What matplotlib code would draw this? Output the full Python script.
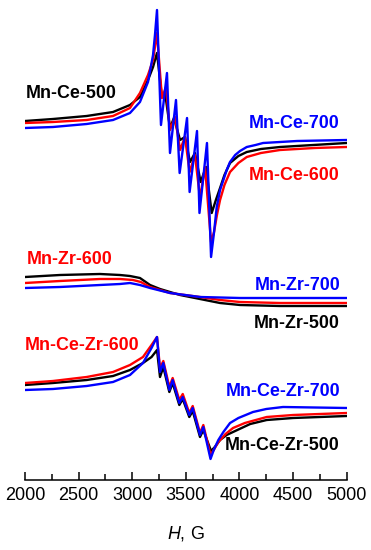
import matplotlib
matplotlib.use("Agg")
import matplotlib.pyplot as plt
from matplotlib.ticker import MultipleLocator

plt.rcParams['font.family'] = ['Liberation Sans', 'DejaVu Sans']
plt.rcParams['mathtext.fontset'] = 'custom'
plt.rcParams['mathtext.it'] = 'Liberation Sans:italic'
plt.rcParams['mathtext.rm'] = 'Liberation Sans'

# ---- Mn-Ce group (field in G, signal in a.u.) ----
mnce500_x = [2000, 2261, 2575, 2821, 2979, 3072, 3147, 3194, 3231, 3275, 3306, 3352, 3389,
             3446, 3492, 3539, 3585, 3638, 3688, 3741, 3780, 3819, 3860, 3912, 3990, 4068,
             4200, 4378, 5000]
mnce500_y = [359, 361, 364, 368, 375, 383, 400, 413, 427, 385, 387, 352, 362,
             340, 343, 318, 327, 298, 313, 267, 280, 292, 305, 317, 324, 328,
             331, 333, 337]
mnce600_x = [2000, 2261, 2575, 2821, 2979, 3072, 3147, 3194, 3212, 3231, 3277, 3315, 3352, 3399,
             3446, 3492, 3535, 3585, 3632, 3679, 3735, 3763, 3790, 3819, 3860, 3912, 3990,
             4068, 4200, 4378, 4700, 5000]
mnce600_y = [357, 358, 360, 364, 372, 387, 405, 420, 433, 447, 382, 393, 350, 363,
             330, 343, 308, 325, 282, 313, 238, 248, 265, 280, 295, 308, 317,
             323, 327, 330, 332, 333]
mnce700_x = [2000, 2261, 2575, 2821, 2979, 3072, 3147, 3194, 3212, 3231, 3268, 3324, 3352,
             3408, 3442, 3511, 3535, 3604, 3627, 3697, 3735, 3760, 3788, 3819, 3850, 3881,
             3912, 3960, 4005, 4068, 4150, 4220, 4378, 4537, 5000]
mnce700_y = [352, 353, 356, 360, 367, 378, 398, 425, 445, 470, 355, 407, 327,
             380, 307, 362, 288, 349, 267, 337, 223, 245, 273, 290, 300, 310,
             318, 325, 329, 333, 335, 337, 338, 339, 340]

# ---- Mn-Zr group ----
mnzr500_x = [2000, 2326, 2699, 2886, 2979, 3072, 3166, 3259, 3352, 3446, 3632, 3819, 4005, 4378, 5000]
mnzr500_y = [203, 205, 206, 205, 204, 202, 195, 191, 188, 185, 181, 177, 175, 174, 174]
mnzr600_x = [2000, 2326, 2699, 2886, 3007, 3080, 3166, 3259, 3352, 3632, 3819, 4005, 4378, 5000]
mnzr600_y = [197, 199, 201, 201, 200, 198, 193, 190, 187, 183, 180, 178, 177, 177]
mnzr700_x = [2000, 2326, 2699, 2886, 2979, 3072, 3166, 3352, 3632, 4005, 4378, 5000]
mnzr700_y = [192, 193, 195, 196, 197, 195, 192, 187, 183, 182, 182, 182]

# ---- Mn-Ce-Zr group ----
mncezr500_x = [2000, 2261, 2575, 2821, 2979, 3100, 3180, 3231, 3259, 3290, 3346, 3377, 3439, 3471,
               3532, 3564, 3632, 3663, 3735, 3770, 3819, 3880, 3940, 4100, 4254, 4500, 5000]
mncezr500_y = [95, 97, 100, 104, 110, 117, 123, 130, 103, 113, 88, 97, 75, 81,
               63, 69, 43, 50, 29, 33, 40, 45, 48, 56, 60, 62, 64]
mncezr600_x = [2000, 2261, 2575, 2821, 2979, 3100, 3180, 3231, 3259, 3290, 3346, 3377, 3439, 3471,
               3532, 3564, 3632, 3663, 3730, 3760, 3803, 3870, 3940, 4050, 4254, 4500, 5000]
mncezr600_y = [97, 99, 103, 108, 115, 123, 135, 143, 112, 119, 93, 102, 80, 86,
               67, 74, 47, 55, 25, 30, 38, 46, 52, 57, 63, 65, 67]
mncezr700_x = [2000, 2261, 2575, 2821, 2979, 3100, 3180, 3231, 3259, 3290, 3346, 3377, 3439, 3471,
               3532, 3564, 3632, 3663, 3730, 3760, 3803, 3850, 3912, 3990, 4126, 4250, 4406, 5000]
mncezr700_y = [90, 91, 94, 98, 105, 117, 132, 143, 108, 117, 90, 100, 77, 83,
               65, 72, 45, 53, 21, 30, 40, 48, 57, 62, 68, 71, 73, 72]

series = [
    (mnce500_x, mnce500_y, 'black'), (mnce600_x, mnce600_y, 'red'), (mnce700_x, mnce700_y, 'blue'),
    (mnzr500_x, mnzr500_y, 'black'), (mnzr600_x, mnzr600_y, 'red'), (mnzr700_x, mnzr700_y, 'blue'),
    (mncezr500_x, mncezr500_y, 'black'), (mncezr600_x, mncezr600_y, 'red'), (mncezr700_x, mncezr700_y, 'blue'),
]

labels = [
    ("Mn-Ce-500", 'black', 26, 92, 'left'),
    ("Mn-Ce-700", 'blue', 340, 122, 'right'),
    ("Mn-Ce-600", 'red', 340, 173, 'right'),
    ("Mn-Zr-600", 'red', 27, 258, 'left'),
    ("Mn-Zr-700", 'blue', 340, 284, 'right'),
    ("Mn-Zr-500", 'black', 340, 322, 'right'),
    ("Mn-Ce-Zr-600", 'red', 25, 343, 'left'),
    ("Mn-Ce-Zr-700", 'blue', 340, 389, 'right'),
    ("Mn-Ce-Zr-500", 'black', 340, 443, 'right'),
]

W, H = 371, 550
fig = plt.figure(figsize=(W / 100, H / 100), dpi=100)
ax = fig.add_axes([25 / W, 70 / H, 321.7 / W, 480 / H])

for x, y, c in series:
    ax.plot(x, y, color=c, lw=1.7, solid_joinstyle='round')

ax.set_xlim(2000, 5000)
ax.set_ylim(0, 480)
for s in ['top', 'left', 'right']:
    ax.spines[s].set_visible(False)
ax.spines['bottom'].set_linewidth(1.1)
ax.set_yticks([])
ax.xaxis.set_major_locator(MultipleLocator(500))
ax.xaxis.set_minor_locator(MultipleLocator(250))
ax.tick_params(axis='x', which='major', direction='in', length=6, width=1.1, labelsize=13, pad=5)
ax.tick_params(axis='x', which='minor', direction='in', length=4.5, width=1.1)
ax.patch.set_alpha(0)

for txt, c, px, py, ha in labels:
    fig.text(px / W, 1 - (py + 6.5) / H, txt, color=c, fontsize=12.9, fontweight='bold',
             ha=ha, va='baseline')

fig.text(186 / W, 1 - (532 + 6.5) / H, r"$H$, G", fontsize=13, ha='center', va='baseline')

fig.savefig("out.png", dpi=100)
